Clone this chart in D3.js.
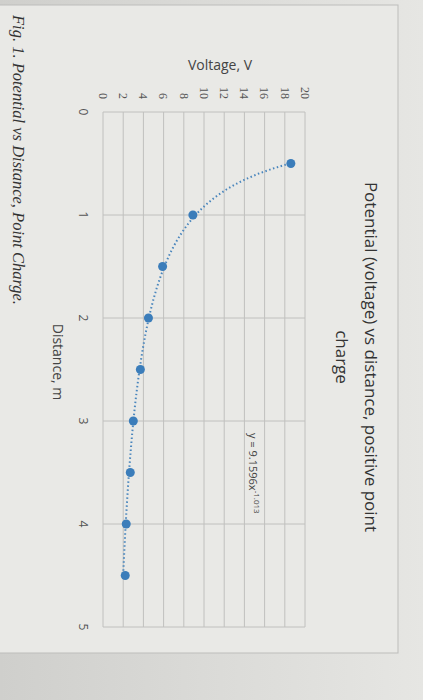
<!DOCTYPE html>
<html lang="en">
<head>
<meta charset="utf-8"/>
<script src="https://cdnjs.cloudflare.com/ajax/libs/d3/7.8.5/d3.min.js"></script>
<style>body{margin:0;background:#dcdcd9;}</style>
</head>
<body>
<svg class="fillmeup"></svg>
<script>
// data
var distances = [0.5, 1, 1.5, 2, 2.5, 3, 3.5, 4, 4.5];
var voltages = [18.6, 8.9, 5.9, 4.5, 3.7, 3.0, 2.7, 2.3, 2.2];
var xTicks = [0, 1, 2, 3, 4, 5];
var yTicks = [0, 2, 4, 6, 8, 10, 12, 14, 16, 18, 20];
var fitCoef = 9.1596, fitPow = -1.013;

var svg = d3.select('.fillmeup').attr('width', 423).attr('height', 700);
var defs = svg.append('defs');
var grad = defs.append('linearGradient').attr('id', 'bg').attr('x1', 0).attr('x2', 1);
grad.append('stop').attr('offset', 0).attr('stop-color', '#cfcfcc');
grad.append('stop').attr('offset', 1).attr('stop-color', '#e6e6e3');
svg.append('rect').attr('width', 423).attr('height', 700).attr('fill', 'url(#bg)');

// the photo is turned, so draw the chart upright and rotate it
var g = svg.append('g').attr('transform', 'translate(423,0) rotate(90)');

g.append('rect').attr('x', 5).attr('y', 25).attr('width', 648).attr('height', 410)
  .attr('fill', '#e9e9e6').attr('stroke', '#bdbdbb');

var x = d3.scaleLinear().domain([0, 5]).range([112, 627]);
var y = d3.scaleLinear().domain([0, 20]).range([320, 118]);

// grid
g.selectAll('line.h').data(yTicks).enter().append('line')
  .attr('x1', x(0)).attr('x2', x(5))
  .attr('y1', function(d) { return y(d); }).attr('y2', function(d) { return y(d); })
  .attr('stroke', '#c0c0be');
g.selectAll('line.v').data(xTicks).enter().append('line')
  .attr('y1', y(0)).attr('y2', y(20))
  .attr('x1', function(d) { return x(d); }).attr('x2', function(d) { return x(d); })
  .attr('stroke', '#c0c0be');

// tick labels
g.selectAll('text.yt').data(yTicks).enter().append('text')
  .attr('x', 99).attr('y', function(d) { return y(d); }).attr('dy', '.35em')
  .attr('text-anchor', 'end').attr('font-family', 'Liberation Serif').attr('font-size', 12)
  .attr('fill', '#555').text(function(d) { return d; });
g.selectAll('text.xt').data(xTicks).enter().append('text')
  .attr('x', function(d) { return x(d); }).attr('y', 344)
  .attr('text-anchor', 'middle').attr('font-family', 'Open Sans').attr('font-size', 12)
  .attr('fill', '#555').text(function(d) { return d; });

// trendline from the fitted power law
var tx = d3.range(0.5, 4.51, 0.05);
var line = d3.line().x(function(d) { return x(d); }).y(function(d) { return y(fitCoef * Math.pow(d, fitPow)); });
g.append('path').datum(tx).attr('d', line).attr('fill', 'none')
  .attr('stroke', '#4a86bd').attr('stroke-width', 2).attr('stroke-dasharray', '1.5,2.5');

g.selectAll('circle').data(distances).enter().append('circle')
  .attr('cx', function(d) { return x(d); })
  .attr('cy', function(d, i) { return y(voltages[i]); })
  .attr('r', 4.5).attr('fill', '#3b7dba');

// titles
g.append('text').attr('x', 357).attr('y', 58).attr('text-anchor', 'middle')
  .attr('font-family', 'Open Sans').attr('font-size', 17).attr('fill', '#333')
  .text('Potential (voltage) vs distance, positive point');
g.append('text').attr('x', 357).attr('y', 87).attr('text-anchor', 'middle')
  .attr('font-family', 'Open Sans').attr('font-size', 17).attr('fill', '#333')
  .text('charge');
g.append('text').attr('transform', 'translate(70,203) rotate(-90)').attr('text-anchor', 'middle')
  .attr('font-family', 'Open Sans').attr('font-size', 14).attr('fill', '#444')
  .text('Voltage, V');
g.append('text').attr('x', 362).attr('y', 370).attr('text-anchor', 'middle')
  .attr('font-family', 'Open Sans').attr('font-size', 14).attr('fill', '#444')
  .text('Distance, m');
var eq = g.append('text').attr('x', 433).attr('y', 174)
  .attr('font-family', 'Open Sans').attr('font-size', 11).attr('fill', '#444');
eq.append('tspan').text('y = 9.1596x');
eq.append('tspan').attr('dy', -5).attr('font-size', 8).text('-1.013');

g.append('text').attr('x', 15).attr('y', 410)
  .attr('font-family', 'Liberation Serif').attr('font-style', 'italic').attr('font-size', 16.5)
  .attr('fill', '#333').text('Fig. 1. Potential vs Distance, Point Charge.');
</script>
</body>
</html>
